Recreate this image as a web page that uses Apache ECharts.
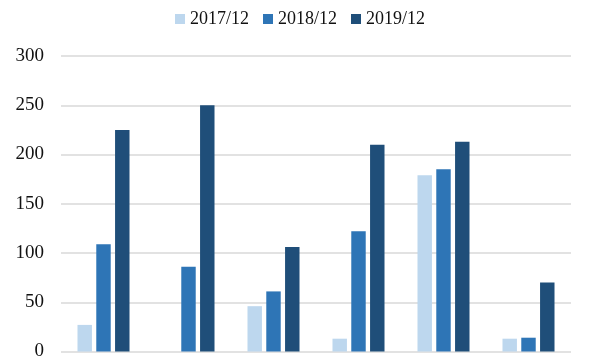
<!DOCTYPE html>
<html><head><meta charset="utf-8">
<script src="https://cdn.jsdelivr.net/npm/echarts@6/dist/echarts.min.js"></script>
<style>html,body{margin:0;padding:0;background:#fff}#c{width:600px;height:361px}</style>
</head><body><div id="c"></div>
<script>
const categories = ['1', '2', '3', '4', '5', '6'];
const seriesNames = ['2017/12', '2018/12', '2019/12'];
const v2017 = [27, null, 46, 13, 179, 13];
const v2018 = [109, 86, 61, 122, 185, 14];
const v2019 = [225, 250, 106, 210, 213, 70];
const yTicks = [0, 50, 100, 150, 200, 250, 300];

const colors = ['#BDD7EE', '#2E75B6', '#1F4E79'];
const font = '"Liberation Serif", "Times New Roman", serif';
const chart = echarts.init(document.getElementById('c'), null, {renderer: 'canvas'});
const values = [v2017, v2018, v2019];
chart.setOption({
  animation: false,
  color: colors,
  legend: {
    top: 5, left: 'center', itemWidth: 10, itemHeight: 10, itemGap: 14,
    icon: 'rect',
    textStyle: {fontFamily: font, fontSize: 18, color: '#111'},
    data: seriesNames
  },
  grid: {left: 61, right: 29, top: 56, bottom: 6, containLabel: false},
  xAxis: {
    type: 'category', data: categories,
    axisLine: {show: false}, axisTick: {show: false}, axisLabel: {show: false}
  },
  yAxis: {
    type: 'value', min: yTicks[0], max: yTicks[yTicks.length - 1], interval: 50,
    axisLine: {show: false}, axisTick: {show: false},
    axisLabel: {fontFamily: font, fontSize: 19, color: '#111', margin: 17},
    splitLine: {lineStyle: {color: '#D9D9D9', width: 1.5}}
  },
  series: seriesNames.map((n, i) => ({
    name: n, type: 'bar', data: values[i],
    barWidth: '17%', barGap: '30%',
    itemStyle: {color: colors[i]}
  }))
});
</script></body></html>
